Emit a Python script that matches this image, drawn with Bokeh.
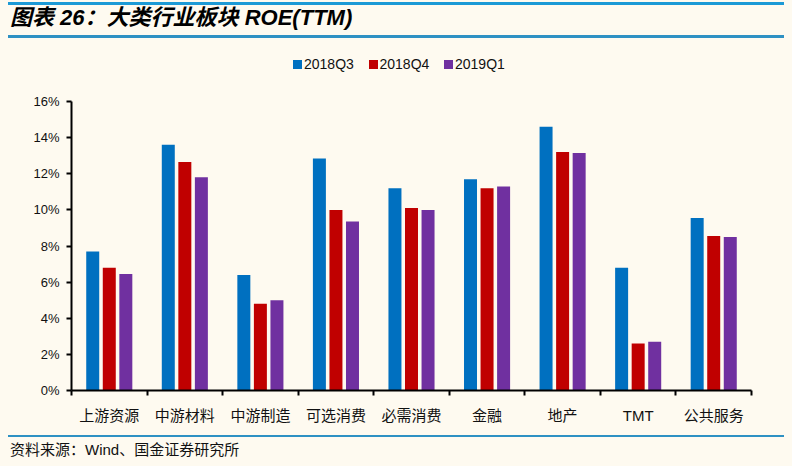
from bokeh.plotting import figure
from bokeh.layouts import column
from bokeh.models import (ColumnDataSource, Range1d, FixedTicker, PrintfTickFormatter, Div)
from bokeh.transform import dodge
from bokeh.embed import file_html
from bokeh.resources import INLINE

# ROE (TTM, %) by broad sector
categories = ["上游资源", "中游材料", "中游制造", "可选消费", "必需消费", "金融", "地产", "TMT", "公共服务"]
roe_2018q3 = [7.7, 13.6, 6.4, 12.85, 11.2, 11.7, 14.6, 6.8, 9.55]
roe_2018q4 = [6.8, 12.65, 4.8, 10.0, 10.1, 11.2, 13.2, 2.6, 8.55]
roe_2019q1 = [6.45, 11.8, 5.0, 9.35, 10.0, 11.3, 13.15, 2.7, 8.5]
series_names = ["2018Q3", "2018Q4", "2019Q1"]
series_colors = ["#0070C0", "#C00000", "#7030A0"]
y_ticks = [0, 2, 4, 6, 8, 10, 12, 14, 16]
title_text = "图表 26：大类行业板块 ROE(TTM)"
source_text = "资料来源：Wind、国金证券研究所"

BG = "#FEFAF0"
CJK = "Liberation Sans, Noto Sans CJK SC"
W = 792
HEAD_H, FOOT_H = 90, 40
MAIN_H = 466 - HEAD_H - FOOT_H
FL, FR = 71, 751          # frame left/right on the page
FT, FB = 101, 391         # frame top/bottom on the page


def rule_html(top, color):
    return (f'<div style="position:absolute;left:8px;top:{top}px;width:776px;'
            f'height:2.5px;background:{color}"></div>')


def legend_html():
    parts = []
    for i, (name, color) in enumerate(zip(series_names, series_colors)):
        x = 293 + i * 75.5
        parts.append(f'<div style="position:absolute;left:{x}px;top:60px;width:9px;height:9px;'
                     f'background:{color}"></div>')
        parts.append(f'<div style="position:absolute;left:{x + 11}px;top:55px;line-height:18px;'
                     f'font-family:Liberation Sans;font-size:14px;color:#111;white-space:nowrap">'
                     f'{name}</div>')
    return "".join(parts)


# header: rules, title and series key
head = Div(width=W, height=HEAD_H, margin=0, text=(
    f'<div style="position:relative;width:{W}px;height:{HEAD_H}px;background:{BG};margin:0">'
    + rule_html(2, "#1C9AD6") + rule_html(35, "#2E91C3")
    + f'<div style="position:absolute;left:10px;top:5px;font-family:{CJK};font-size:22px;'
      f'font-weight:bold;font-style:italic;color:#000;line-height:26px;white-space:nowrap">'
      f'{title_text}</div>'
    + legend_html() + '</div>'))

# main chart
centers = [i + 0.5 for i in range(len(categories))]
source = ColumnDataSource(dict(x=centers, q3=roe_2018q3, q4=roe_2018q4, q1=roe_2019q1))

p = figure(width=W, height=MAIN_H, output_backend="svg", toolbar_location=None,
           x_range=Range1d(0, len(categories)), y_range=Range1d(0, 16),
           min_border_left=FL, min_border_right=W - FR,
           min_border_top=FT - HEAD_H, min_border_bottom=HEAD_H + MAIN_H - FB,
           background_fill_color=BG, border_fill_color=BG, margin=0)
p.outline_line_color = None
p.grid.visible = False

step, bw = 0.219, 0.172
for col, off, color in zip(["q3", "q4", "q1"], [-step, 0, step], series_colors):
    p.vbar(x=dodge("x", off, range=p.x_range), top=col, width=bw, source=source,
           fill_color=color, line_color=None)

# y axis
ya = p.yaxis[0]
ya.ticker = FixedTicker(ticks=y_ticks)
ya.formatter = PrintfTickFormatter(format="%d%%")
ya.axis_line_width = 2
ya.axis_line_color = "#000000"
ya.major_tick_line_width = 2
ya.major_tick_line_color = "#000000"
ya.major_tick_in = 0
ya.major_tick_out = 5
ya.minor_tick_line_color = None
ya.major_label_standoff = 7
ya.major_label_text_font = "Liberation Sans"
ya.major_label_text_font_size = "13px"
ya.major_label_text_color = "#111111"

# x axis: labels at centers, ticks at category boundaries
xa = p.xaxis[0]
xa.ticker = FixedTicker(ticks=centers, minor_ticks=list(range(len(categories) + 1)))
xa.major_label_overrides = {c: name for c, name in zip(centers, categories)}
xa.axis_line_width = 2
xa.axis_line_color = "#000000"
xa.major_tick_line_color = None
xa.major_tick_in = 0
xa.major_tick_out = 0
xa.minor_tick_line_width = 2
xa.minor_tick_line_color = "#000000"
xa.minor_tick_in = 0
xa.minor_tick_out = 5
xa.major_label_standoff = 11
xa.major_label_text_font = CJK
xa.major_label_text_font_size = "15px"
xa.major_label_text_color = "#111111"

# footer: rule and source note
foot = Div(width=W, height=FOOT_H, margin=0, text=(
    f'<div style="position:relative;width:{W}px;height:{FOOT_H}px;background:{BG};margin:0">'
    + rule_html(8.5, "#2E91C3")
    + f'<div style="position:absolute;left:10px;top:15px;font-family:{CJK};font-size:15px;'
      f'color:#111;line-height:18px;white-space:nowrap">{source_text}</div></div>'))

layout = column(head, p, foot, spacing=0, margin=0, styles={"background-color": BG})
open("out.html", "w").write(file_html(layout, INLINE))
